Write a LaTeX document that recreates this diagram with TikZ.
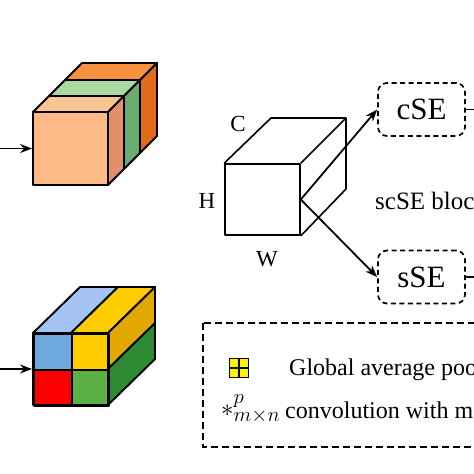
\documentclass[tikz,border=0pt]{standalone}
\usepackage{fontspec}
\setmainfont{Liberation Serif}
\usetikzlibrary{arrows.meta}

\definecolor{orfront}{HTML}{FDBA87}
\definecolor{ortop}{HTML}{F9C592}
\definecolor{orside}{HTML}{E3906A}
\definecolor{grtop}{HTML}{A9D9A0}
\definecolor{grside}{HTML}{6AAB6E}
\definecolor{dotop}{HTML}{F7913F}
\definecolor{doside}{HTML}{E06B1B}
\definecolor{blfront}{HTML}{6FA8DC}
\definecolor{bltop}{HTML}{A4C2F4}
\definecolor{yefront}{HTML}{FFCC00}
\definecolor{yeside}{HTML}{E3A800}
\definecolor{refront}{HTML}{FF0000}
\definecolor{gnfront}{HTML}{5DB043}
\definecolor{gnside}{HTML}{2E8B34}

\begin{document}
\begin{tikzpicture}[x=1pt,y=-1pt,
  face/.style={draw, line width=1.9pt, line join=round},
  cell/.style={face, inner sep=0pt, minimum width=#1, minimum height=36pt},
  sebox/.style={draw, dash pattern=on 5pt off 3.5pt, rounded corners=9pt,
    line width=1.7pt, minimum width=87pt, minimum height=53pt, inner sep=0pt,
    font=\fontsize{31}{31}\selectfont},
  lbl/.style={inner sep=0pt, font=\fontsize{23}{23}\selectfont},
  legtext/.style={inner sep=0pt, anchor=base west, font=\fontsize{24}{24}\selectfont},
  arr/.style={-{Stealth[length=12pt,width=9pt]}, line width=1.8pt}]
  \useasboundingbox (0,0) rectangle (474,474);
  \clip (0,0) rectangle (474,474);

  % channel slices
  \filldraw[face, fill=dotop] (65,80) -- (140,80) -- (157,63) -- (82,63) -- cycle;
  \filldraw[face, fill=doside] (140,80) -- (157,63) -- (157,136) -- (140,153) -- cycle;
  \filldraw[face, fill=grtop] (49,96) -- (124,96) -- (140,80) -- (65,80) -- cycle;
  \filldraw[face, fill=grside] (124,96) -- (140,80) -- (140,153) -- (124,169) -- cycle;
  \filldraw[face, fill=ortop] (33,112) -- (108,112) -- (124,96) -- (49,96) -- cycle;
  \filldraw[face, fill=orside] (108,112) -- (124,96) -- (124,169) -- (108,185) -- cycle;
  \node[face, fill=orfront, inner sep=0pt, minimum width=75pt, minimum height=73pt]
    (topfront) at (70.5,148.5) {};
  \coordinate (topin) at (-5,148.5);
  \draw[arr] (topin) -- (topfront.west);

  % spatial blocks
  \filldraw[face, fill=bltop] (33,333) -- (71,333) -- (118,287) -- (80,287) -- cycle;
  \filldraw[face, fill=yefront] (71,333) -- (108,333) -- (155,287) -- (118,287) -- cycle;
  \filldraw[face, fill=yeside] (108,333) -- (155,287) -- (155,323) -- (108,369) -- cycle;
  \filldraw[face, fill=gnside] (108,369) -- (155,323) -- (155,359) -- (108,405) -- cycle;
  \node[cell=38pt, fill=blfront, anchor=north west] (bluecell) at (33,333) {};
  \node[cell=37pt, fill=yefront, anchor=north west] (yellowcell) at (71,333) {};
  \node[cell=38pt, fill=refront, anchor=north west] (redcell) at (33,369) {};
  \node[cell=37pt, fill=gnfront, anchor=north west] (greencell) at (71,369) {};
  \node[face, inner sep=0pt, minimum width=75pt, minimum height=72pt]
    (botfront) at (70.5,369) {};
  \coordinate (botin) at (-5,369);
  \draw[arr] (botin) -- (botfront.west);

  % feature map
  \node[face, line width=1.6pt, inner sep=0pt, minimum width=75pt, minimum height=71pt]
    (fmap) at (262.5,199.5) {};
  \draw[face, line width=1.6pt] (fmap.north west) -- (271,118) -- (346,118) -- (fmap.north east)
    (346,118) -- (346,189) -- (fmap.south east);
  \node[lbl] (clbl) at (238,124) {C};
  \node[lbl] (hlbl) at (207,201) {H};
  \node[lbl] (wlbl) at (267,259) {W};

  % scSE block
  \node[sebox] (cse) at (421.5,109.5) {cSE};
  \node[sebox] (sse) at (421.5,277) {sSE};
  \coordinate (cout) at (480,109.5);
  \coordinate (sout) at (480,277);
  \draw[line width=1.6pt] (cse.east) -- (cout);
  \draw[line width=1.6pt] (sse.east) -- (sout);
  \draw[arr] (fmap.east) -- (cse.west);
  \draw[arr] (fmap.east) -- (sse.west);
  \node[inner sep=0pt, anchor=west, font=\fontsize{25}{25}\selectfont]
    (scse) at (375,201) {scSE bloc};

  % legend
  \draw[line width=1.7pt, dash pattern=on 7pt off 4pt] (203,323) rectangle (490,447);
  \node[draw, line width=1.3pt, fill=yellow, inner sep=0pt, minimum size=19pt]
    (gap) at (239,368) {};
  \draw[line width=1.3pt] (gap.north) -- (gap.south) (gap.west) -- (gap.east);
  \node[legtext] (gaptext) at (289,375) {Global average poo};
  \node[inner sep=0pt, anchor=west, font=\fontsize{31}{31}\selectfont]
    (convsym) at (221,409) {$\ast^{p}_{m\times n}$};
  \node[legtext] (convtext) at (285,418) {convolution with m};
\end{tikzpicture}
\end{document}
